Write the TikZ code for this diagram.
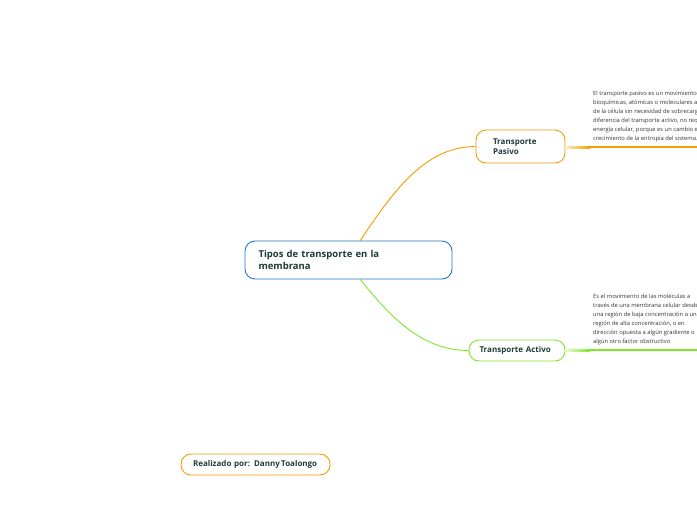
\documentclass[tikz,border=0pt]{standalone}
\usepackage{fontspec}
\setmainfont{Open Sans}
\definecolor{org}{HTML}{F59B00}
\definecolor{grn}{HTML}{7EE62A}
\definecolor{blu}{HTML}{1F78C8}
\definecolor{txt}{HTML}{1F3A3A}
\begin{document}
\begin{tikzpicture}[x=1pt,y=-1pt,
 box/.style={draw,rounded corners=10pt,line width=0.9pt,fill=white,text=txt,font=\bfseries\fontsize{8}{10}\selectfont,align=left,inner sep=0pt},
 note/.style={anchor=north west,align=left,text=black!80,font=\fontsize{5.8}{9}\selectfont,inner sep=0pt}]
\useasboundingbox (0,0) rectangle (697,520);
\clip (0,0) rectangle (697,520);
\node[box,draw=blu,minimum width=207,minimum height=38,text width=180,font=\bfseries\fontsize{9.5}{12}\selectfont] (main) at (348.5,260) {Tipos de transporte en la\\membrana};
\node[box,draw=org,minimum width=89,minimum height=33,text width=55] (pas) at (520.5,146.5) {Transporte\\Pasivo};
\node[box,draw=grn,minimum width=96,minimum height=21,text width=75] (act) at (517,350.5) {Transporte Activo};
\node[box,draw=org,minimum width=149,minimum height=21,text width=125] (real) at (255.5,464.5) {Realizado por: Danny\,Toalongo};
\coordinate (m1) at (360,241);
\coordinate (m2) at (360,279);
\draw[org,line width=0.9pt] (m1) .. controls (400,180) and (430,147) .. (pas.west);
\draw[grn,line width=0.9pt] (m2) .. controls (400,330) and (430,350) .. (act.west);
\shade[left color=org!20,right color=org] (pas.east|-0,146) rectangle (590,148);
\fill[org] (590,146) rectangle (697,148);
\shade[left color=grn!20,right color=grn] (act.east|-0,349) rectangle (590,351);
\fill[grn] (590,349) rectangle (697,351);
\node[note] (n1) at (593,91) {El transporte pasivo es un movimiento de sustancias\\bioquímicas, atómicas o moleculares a través de la membrana\\de la célula sin necesidad de sobrecargar de energía; a\\diferencia del transporte activo, no requiere de\\energía celular, porque es un cambio espontáneo con\\crecimiento de la entropía del sistema.};
\node[note] (n2) at (593,294) {Es el movimiento de las moléculas a\\través de una membrana celular desde\\una región de baja concentración a una\\región de alta concentración, o en\\dirección opuesta a algún gradiente o\\algún otro factor obstructivo};
\end{tikzpicture}
\end{document}
